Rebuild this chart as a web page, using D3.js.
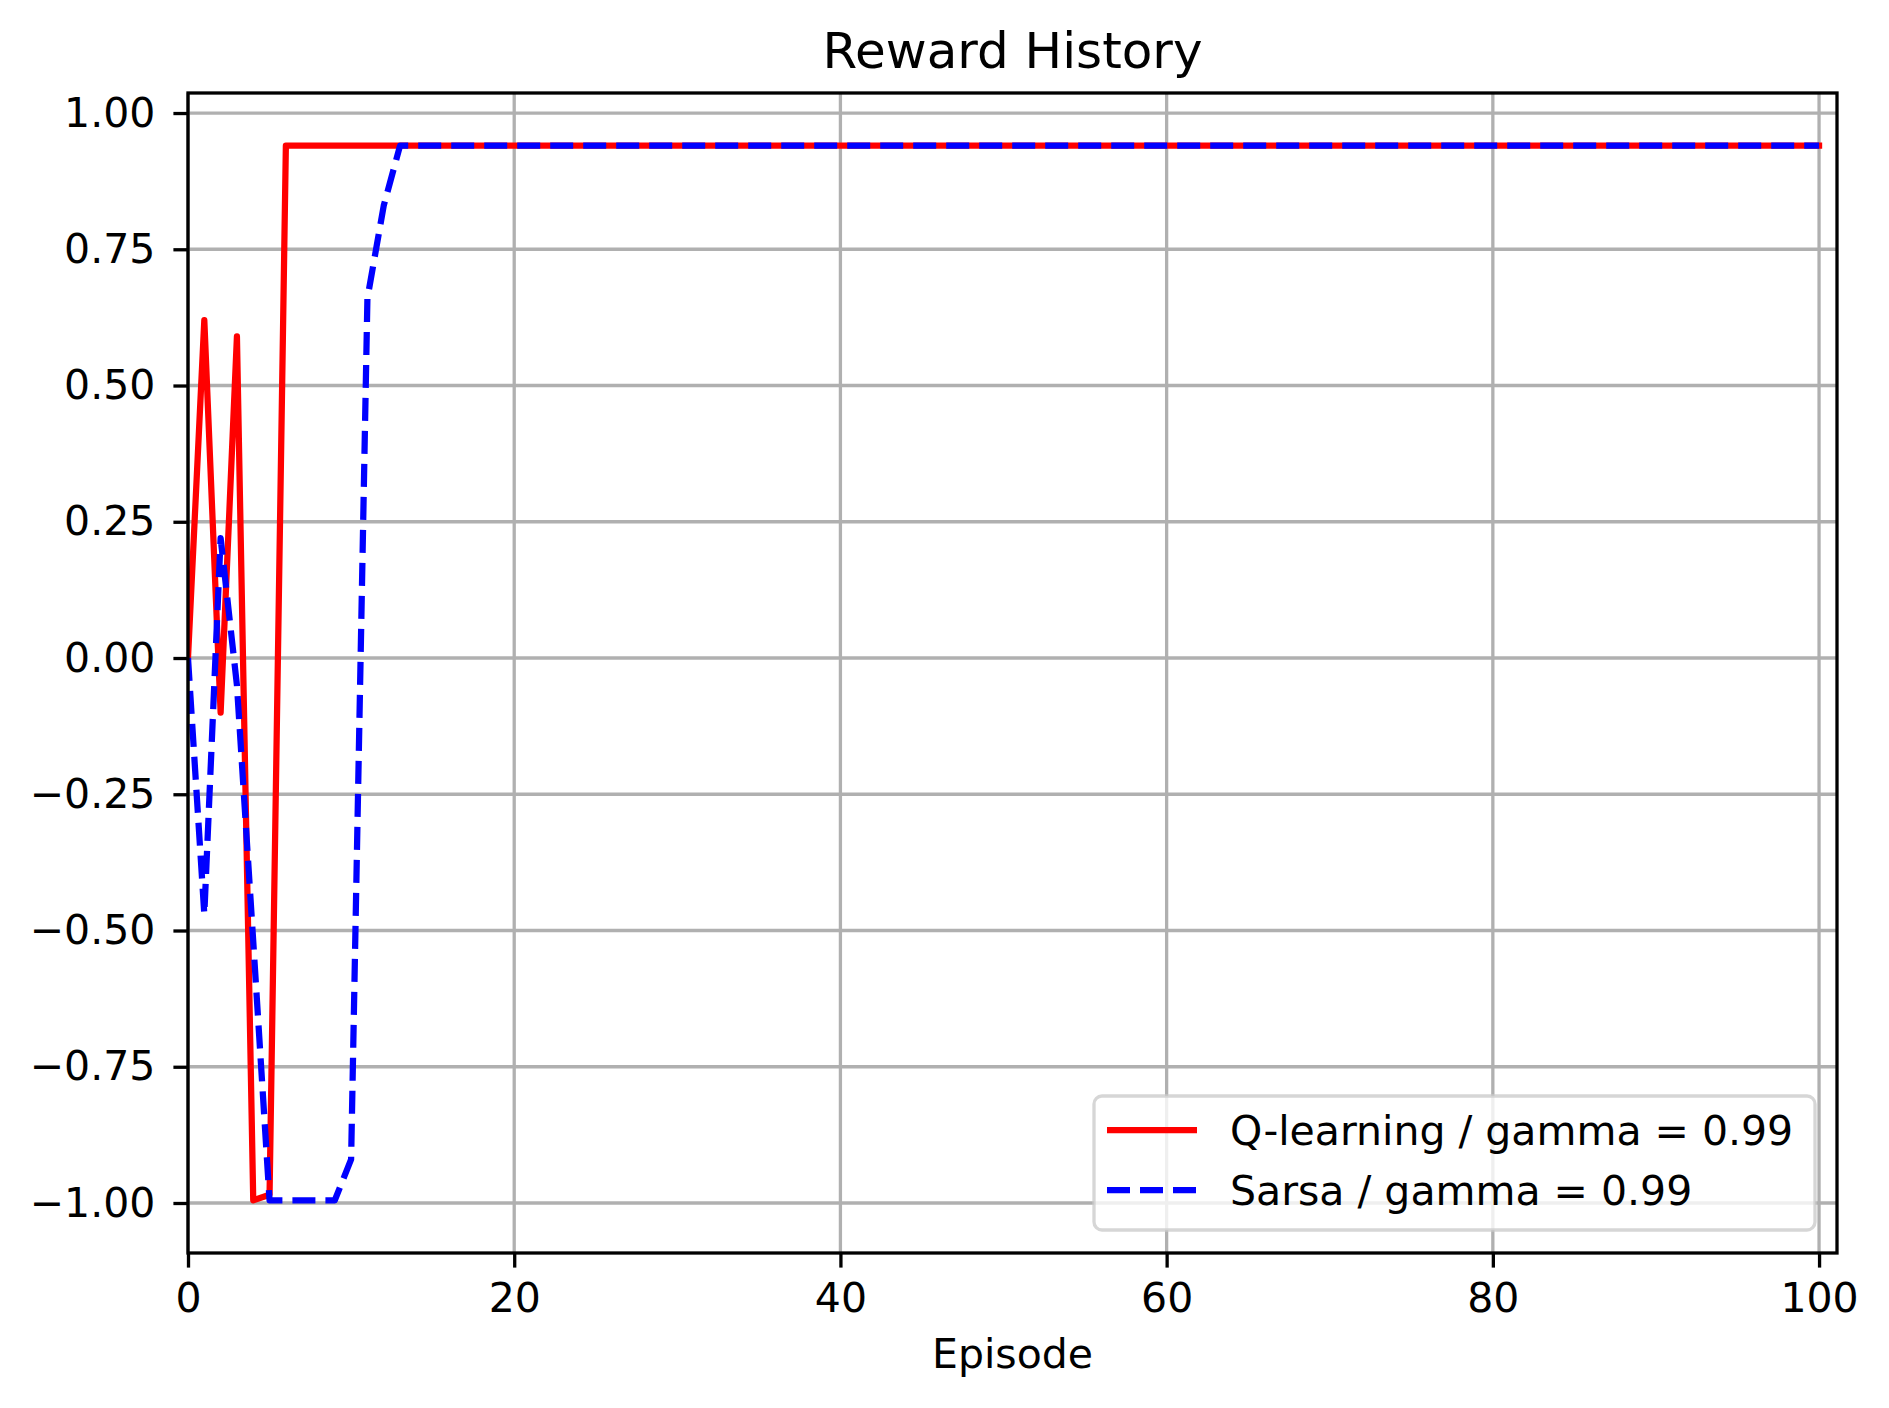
<!DOCTYPE html>
<html>
<head>
<meta charset="utf-8">
<script src="https://cdn.jsdelivr.net/npm/d3@7"></script>
<style>
  body { margin: 0; background: #fff; }
  svg text { font-family: "DejaVu Sans", sans-serif; fill: #000; }
</style>
</head>
<body>
<div id="chart"></div>
<script>
// episodes 0..100
const episodes = d3.range(0, 101);

// Q-learning / gamma = 0.99 (episodes 0..100)
const qLearning = [
  0, 0.62, -0.10, 0.59, -0.995, -0.985, 0.94, 0.94, 0.94, 0.94,
  0.94, 0.94, 0.94, 0.94, 0.94, 0.94, 0.94, 0.94, 0.94, 0.94,
  0.94, 0.94, 0.94, 0.94, 0.94, 0.94, 0.94, 0.94, 0.94, 0.94,
  0.94, 0.94, 0.94, 0.94, 0.94, 0.94, 0.94, 0.94, 0.94, 0.94,
  0.94, 0.94, 0.94, 0.94, 0.94, 0.94, 0.94, 0.94, 0.94, 0.94,
  0.94, 0.94, 0.94, 0.94, 0.94, 0.94, 0.94, 0.94, 0.94, 0.94,
  0.94, 0.94, 0.94, 0.94, 0.94, 0.94, 0.94, 0.94, 0.94, 0.94,
  0.94, 0.94, 0.94, 0.94, 0.94, 0.94, 0.94, 0.94, 0.94, 0.94,
  0.94, 0.94, 0.94, 0.94, 0.94, 0.94, 0.94, 0.94, 0.94, 0.94,
  0.94, 0.94, 0.94, 0.94, 0.94, 0.94, 0.94, 0.94, 0.94, 0.94,
  0.94
];

// Sarsa / gamma = 0.99 (episodes 0..100)
const sarsa = [
  0, -0.47, 0.22, -0.05, -0.52, -0.995, -0.995, -0.995, -0.995, -0.995,
  -0.92, 0.66, 0.83, 0.94, 0.94, 0.94, 0.94, 0.94, 0.94, 0.94,
  0.94, 0.94, 0.94, 0.94, 0.94, 0.94, 0.94, 0.94, 0.94, 0.94,
  0.94, 0.94, 0.94, 0.94, 0.94, 0.94, 0.94, 0.94, 0.94, 0.94,
  0.94, 0.94, 0.94, 0.94, 0.94, 0.94, 0.94, 0.94, 0.94, 0.94,
  0.94, 0.94, 0.94, 0.94, 0.94, 0.94, 0.94, 0.94, 0.94, 0.94,
  0.94, 0.94, 0.94, 0.94, 0.94, 0.94, 0.94, 0.94, 0.94, 0.94,
  0.94, 0.94, 0.94, 0.94, 0.94, 0.94, 0.94, 0.94, 0.94, 0.94,
  0.94, 0.94, 0.94, 0.94, 0.94, 0.94, 0.94, 0.94, 0.94, 0.94,
  0.94, 0.94, 0.94, 0.94, 0.94, 0.94, 0.94, 0.94, 0.94, 0.94,
  0.94
];

const seriesNames = ['Q-learning / gamma = 0.99', 'Sarsa / gamma = 0.99'];
const xTicks = [0, 20, 40, 60, 80, 100];
const yTicks = [-1.00, -0.75, -0.50, -0.25, 0.00, 0.25, 0.50, 0.75, 1.00];
const X_MAX = 101.1;

const WIDTH = 1889, HEIGHT = 1408;
const MARGIN = { top: 93, right: 52, bottom: 155, left: 188 };
const LW = 3.3;          // spine / grid / tick width
const FONT = 41;

const svg = d3.select('#chart').append('svg')
  .attr('width', WIDTH)
  .attr('height', HEIGHT);

const x = d3.scaleLinear()
  .domain([0, X_MAX])
  .range([MARGIN.left, WIDTH - MARGIN.right]);

// matplotlib-style 5% margins on y
const all = qLearning.concat(sarsa);
const yMin = d3.min(all), yMax = d3.max(all);
const pad = 0.05 * (yMax - yMin);
const y = d3.scaleLinear()
  .domain([yMin - pad, yMax + pad])
  .range([HEIGHT - MARGIN.bottom, MARGIN.top]);

// grid
const grid = svg.append('g').attr('class', 'grid');
grid.selectAll('.gx').data(xTicks).enter().append('line')
  .attr('x1', d => x(d)).attr('x2', d => x(d))
  .attr('y1', MARGIN.top).attr('y2', HEIGHT - MARGIN.bottom)
  .attr('stroke', '#b0b0b0').attr('stroke-width', LW);
grid.selectAll('.gy').data(yTicks).enter().append('line')
  .attr('x1', MARGIN.left).attr('x2', WIDTH - MARGIN.right)
  .attr('y1', d => y(d)).attr('y2', d => y(d))
  .attr('stroke', '#b0b0b0').attr('stroke-width', LW);

// lines
svg.append('clipPath').attr('id', 'clip')
  .append('rect')
  .attr('x', MARGIN.left).attr('y', MARGIN.top)
  .attr('width', WIDTH - MARGIN.left - MARGIN.right)
  .attr('height', HEIGHT - MARGIN.top - MARGIN.bottom);

const line = d3.line()
  .x((d, i) => x(episodes[i]))
  .y(d => y(d));

const plot = svg.append('g').attr('clip-path', 'url(#clip)');
plot.append('path')
  .datum(qLearning)
  .attr('d', line)
  .attr('fill', 'none')
  .attr('stroke', '#ff0000')
  .attr('stroke-width', 6.25)
  .attr('stroke-linejoin', 'round')
  .attr('stroke-linecap', 'square');
plot.append('path')
  .datum(sarsa)
  .attr('d', line)
  .attr('fill', 'none')
  .attr('stroke', '#0000ff')
  .attr('stroke-width', 6.25)
  .attr('stroke-linejoin', 'round')
  .attr('stroke-dasharray', '23,10');

// axes
const xAxis = svg.append('g')
  .attr('transform', `translate(0,${HEIGHT - MARGIN.bottom})`)
  .call(d3.axisBottom(x).tickValues(xTicks).tickFormat(d3.format('d'))
    .tickSize(14.6).tickSizeOuter(0).tickPadding(15));
const yAxis = svg.append('g')
  .attr('transform', `translate(${MARGIN.left},0)`)
  .call(d3.axisLeft(y).tickValues(yTicks).tickFormat(d3.format('.2f'))
    .tickSize(14.6).tickSizeOuter(0).tickPadding(18));

[xAxis, yAxis].forEach(ax => {
  ax.select('.domain').remove();
  ax.selectAll('.tick line').attr('stroke', '#000').attr('stroke-width', LW);
  ax.selectAll('.tick text')
    .style('font-family', '"DejaVu Sans", sans-serif')
    .style('font-size', FONT + 'px')
    .attr('fill', '#000');
});

// spines
svg.append('rect')
  .attr('x', MARGIN.left).attr('y', MARGIN.top)
  .attr('width', WIDTH - MARGIN.left - MARGIN.right)
  .attr('height', HEIGHT - MARGIN.top - MARGIN.bottom)
  .attr('fill', 'none')
  .attr('stroke', '#000')
  .attr('stroke-width', LW);

// title and label
const cx = (MARGIN.left + WIDTH - MARGIN.right) / 2;
svg.append('text')
  .attr('x', cx).attr('y', 68)
  .attr('text-anchor', 'middle')
  .style('font-size', '50px')
  .text('Reward History');
svg.append('text')
  .attr('x', cx).attr('y', 1368)
  .attr('text-anchor', 'middle')
  .style('font-size', FONT + 'px')
  .text('Episode');

// legend
const legend = svg.append('g');
legend.append('rect')
  .attr('x', 1094).attr('y', 1096)
  .attr('width', 721).attr('height', 134)
  .attr('rx', 8).attr('ry', 8)
  .attr('fill', '#fff').attr('fill-opacity', 0.8)
  .attr('stroke', '#cccccc').attr('stroke-opacity', 0.8)
  .attr('stroke-width', LW);

const legendItems = [
  { name: seriesNames[0], color: '#ff0000', dash: null },
  { name: seriesNames[1], color: '#0000ff', dash: '23,10' }
];
legendItems.forEach((item, i) => {
  const ly = 1130 + i * 60;
  legend.append('line')
    .attr('x1', 1107).attr('x2', 1197)
    .attr('y1', ly).attr('y2', ly)
    .attr('stroke', item.color)
    .attr('stroke-width', 6.25)
    .attr('stroke-dasharray', item.dash);
  legend.append('text')
    .attr('x', 1230).attr('y', ly + 15)
    .style('font-size', FONT + 'px')
    .text(item.name);
});
</script>
</body>
</html>
